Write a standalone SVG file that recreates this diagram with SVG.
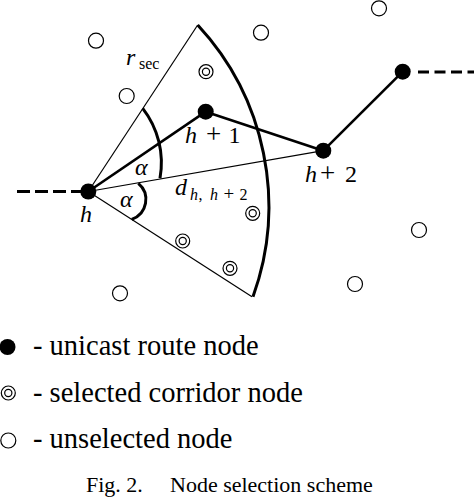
<svg xmlns="http://www.w3.org/2000/svg" width="474" height="500" viewBox="0 0 474 500">
<style>
.thin{fill:none;stroke:#000;stroke-width:1.2}
.thick{fill:none;stroke:#000;stroke-width:2.6}
.arc{fill:none;stroke:#000;stroke-width:3}
.dash{fill:none;stroke:#000;stroke-width:2.8}
.route{fill:#000}
.hollow{fill:#fff;stroke:#000;stroke-width:1.2}
.m{font-family:"Liberation Serif","DejaVu Serif",serif;font-size:24px;fill:#000}
.i{font-style:italic}
.sub{font-family:"Liberation Serif","DejaVu Serif",serif;font-size:16px;fill:#000}
.leg{font-family:"Liberation Serif","DejaVu Serif",serif;font-size:28.5px;fill:#000}
.cap{font-family:"Liberation Serif","DejaVu Serif",serif;font-size:22px;fill:#000}
</style>
<defs>
<g id="sel"><circle r="7" class="hollow"/><circle r="3.6" class="hollow"/></g>
</defs>
<rect width="474" height="500" fill="#fff"/>
<g id="connectors">
<line class="dash" x1="17" y1="191.5" x2="82" y2="191.5" stroke-dasharray="13,5"/>
<line class="dash" x1="418" y1="72" x2="474" y2="72" stroke-dasharray="11,5.5"/>
<line class="thin" x1="88.3" y1="191.5" x2="197.7" y2="25"/>
<line class="thin" x1="88.3" y1="191.5" x2="252" y2="296.7"/>
<line class="thin" x1="88.3" y1="191.5" x2="323.3" y2="150.7"/>
<path class="arc" d="M197.7,25 A266.5,266.5 0 0 1 253,296.7"/>
<path class="arc" d="M142.7,108.3 A88.6,88.6 0 0 1 160,178.3"/>
<path class="arc" d="M138.3,183.3 A21,21 0 0 1 131.7,219.3"/>
<line class="thick" x1="88.3" y1="191.5" x2="205.7" y2="111.7"/>
<line class="thick" x1="205.7" y1="111.7" x2="323.3" y2="150.7"/>
<line class="thick" x1="323.3" y1="150.7" x2="402.7" y2="71.7"/>
</g>
<g id="node-h"><circle class="route" cx="88.3" cy="191.5" r="8"/></g>
<g id="node-h1"><circle class="route" cx="205.7" cy="111.7" r="8"/></g>
<g id="node-h2"><circle class="route" cx="323.3" cy="150.7" r="8"/></g>
<g id="node-h3"><circle class="route" cx="402.7" cy="71.7" r="8"/></g>
<g id="sel-1"><use href="#sel" x="206" y="71.7"/></g>
<g id="sel-2"><use href="#sel" x="252.7" y="213.3"/></g>
<g id="sel-3"><use href="#sel" x="182.7" y="241"/></g>
<g id="sel-4"><use href="#sel" x="230" y="268.3"/></g>
<g id="un-1"><circle class="hollow" cx="96" cy="40.7" r="7.5"/></g>
<g id="un-2"><circle class="hollow" cx="126.7" cy="96" r="7.5"/></g>
<g id="un-3"><circle class="hollow" cx="261" cy="32.7" r="7.5"/></g>
<g id="un-4"><circle class="hollow" cx="379" cy="8.3" r="7.5"/></g>
<g id="un-5"><circle class="hollow" cx="419" cy="230" r="7.5"/></g>
<g id="un-6"><circle class="hollow" cx="355" cy="284" r="7.5"/></g>
<g id="un-7"><circle class="hollow" cx="120" cy="293.3" r="7.5"/></g>
<g id="labels">
<text class="m i" x="126" y="65">r</text><text class="sub" x="139" y="68.5">sec</text>
<text class="m i" x="135" y="175">α</text>
<text class="m i" x="120" y="206.7">α</text>
<text class="m i" x="80" y="221.7">h</text>
<text class="m" y="143.3"><tspan class="i" x="185">h</tspan><tspan x="206" font-size="27">+</tspan><tspan x="228.5">1</tspan></text>
<text class="m" y="181.7"><tspan class="i" x="305">h</tspan><tspan x="320" font-size="27">+</tspan><tspan x="345">2</tspan></text>
<text class="m i" x="175" y="195">d</text>
<text class="sub" y="199.5"><tspan class="i" x="190">h</tspan><tspan x="198.5">,</tspan><tspan class="i" x="210">h</tspan><tspan x="223.5" font-size="19">+</tspan><tspan x="239.5">2</tspan></text>
</g>
<g id="legend">
<circle class="route" cx="7.5" cy="347" r="8"/>
<text class="leg" x="33" y="355">- unicast route node</text>
<use href="#sel" x="8.3" y="393"/>
<text class="leg" x="33" y="402">- selected corridor node</text>
<circle class="hollow" cx="8.3" cy="440.5" r="7.5"/>
<text class="leg" x="33" y="448">- unselected node</text>
</g>
<g id="caption">
<text class="cap" x="86" y="492">Fig. 2.</text>
<text class="cap" x="170" y="492">Node selection scheme</text>
</g>
</svg>
